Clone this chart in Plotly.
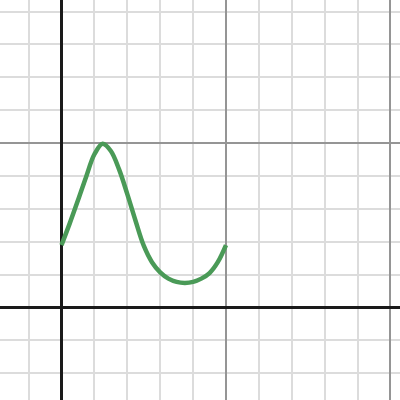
import plotly.graph_objects as go

# Curve samples
x_vals = [0, 0.25, 0.5, 0.75, 1.0, 1.25, 1.5, 1.75, 2.0, 2.25, 2.5,
          2.75, 3.0, 3.25, 3.5, 3.75, 4.0, 4.25, 4.5, 4.75, 5.0]
y_vals = [1.9, 2.56, 3.26, 3.98, 4.66, 4.98, 4.76, 4.2, 3.45, 2.64, 1.88,
          1.38, 1.07, 0.88, 0.78, 0.75, 0.78, 0.88, 1.05, 1.38, 1.9]

x_range = [-1.87, 10.29]
y_range = [-2.81, 9.35]

fig = go.Figure()
fig.add_trace(go.Scatter(
    x=x_vals, y=y_vals, mode="lines",
    line=dict(color="#4a9a57", width=4.5, shape="spline", smoothing=1.0),
    hoverinfo="skip", showlegend=False,
))

axis_common = dict(
    showticklabels=False, ticks="",
    showgrid=True, dtick=5, tick0=0, gridcolor="#959595", gridwidth=1.5,
    minor=dict(dtick=1, tick0=0, showgrid=True, gridcolor="#dcdcdc", gridwidth=1.5),
    zeroline=True, zerolinecolor="#1a1a1a", zerolinewidth=3,
    showline=False, fixedrange=True,
)

fig.update_layout(
    width=400, height=400, autosize=False,
    margin=dict(l=0, r=0, t=0, b=0),
    paper_bgcolor="white", plot_bgcolor="white",
    xaxis=dict(range=x_range, **axis_common),
    yaxis=dict(range=y_range, **axis_common),
)

fig.write_html(
    "out.html",
    config={"displayModeBar": False},
    post_script="document.body.style.margin='0';document.body.style.overflow='hidden';",
)
